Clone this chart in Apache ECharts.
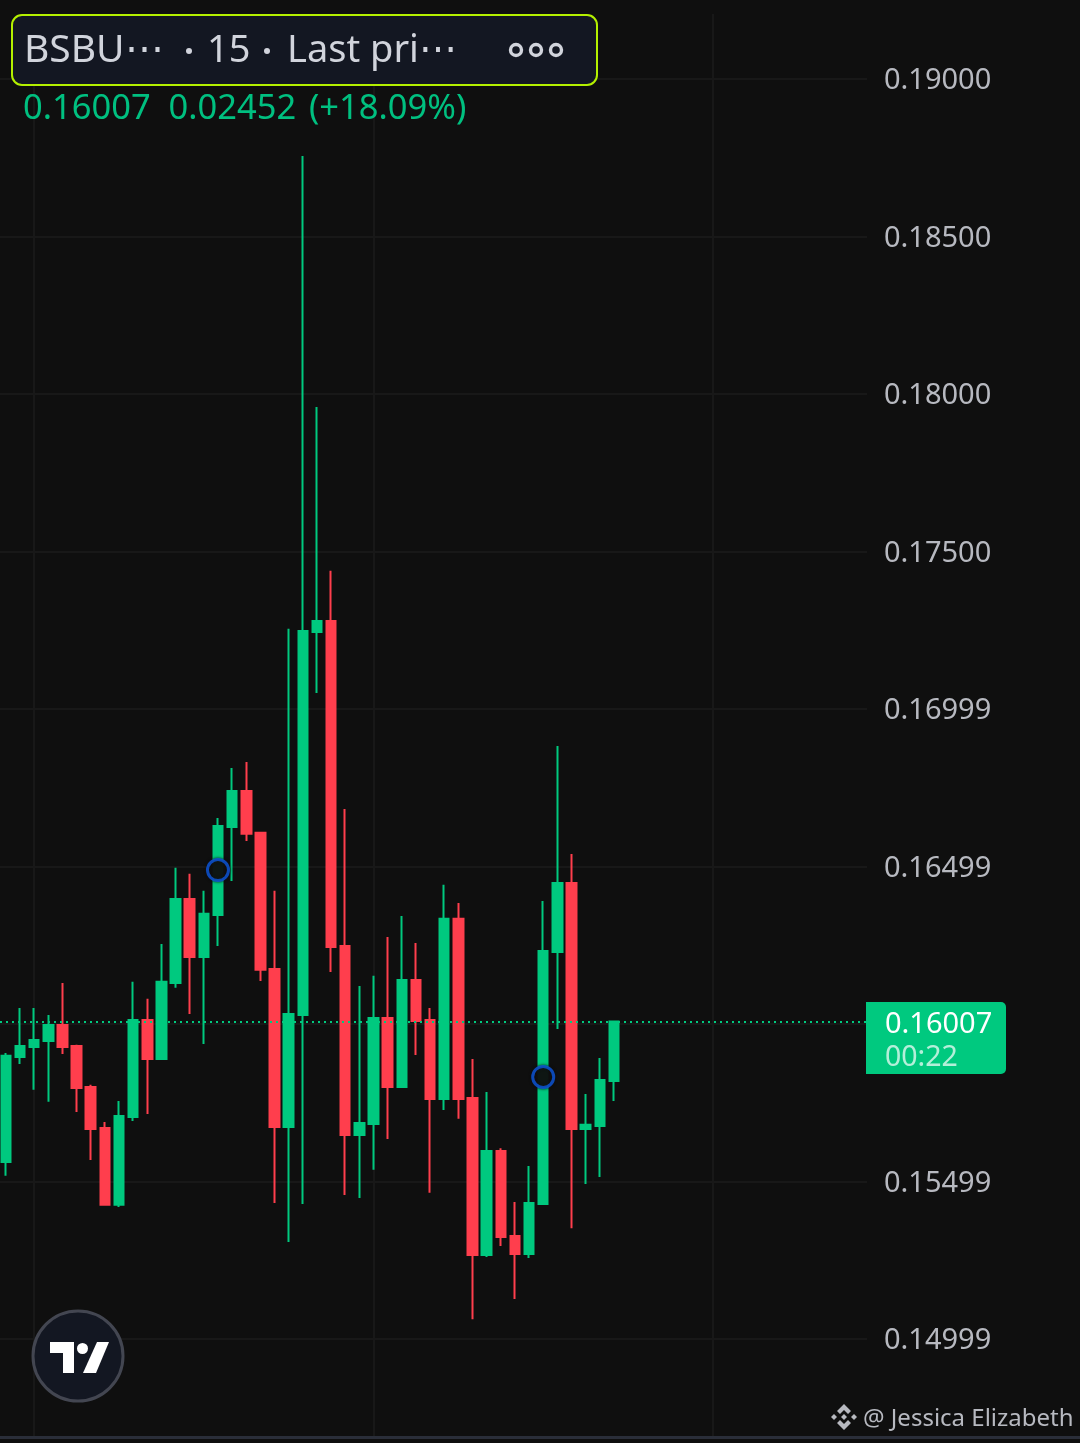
<!DOCTYPE html>
<html><head><meta charset="utf-8">
<style>html,body{margin:0;padding:0;background:#0f0f0f}#c{width:1080px;height:1443px}</style>
<script src="https://cdn.jsdelivr.net/npm/echarts@6/dist/echarts.min.js"></script>
</head><body><div id="c"></div>
<script>
// Candles: one row each, left to right
const opens  = [.15561,.15894,.15926,.15945,.15996,.15929,.15799,.15669,.15425,.15704,.16012,.15888,.16129,.16396,.16212,.16345,.16625,.16739,.16606,.16174,.15672,.16028,.17244,.17279,.16247,.15647,.15682,.16018,.15799,.16139,.16012,.15761,.16333,.15764,.15266,.15596,.15326,.15269,.15428,.16228,.16447,.15666,.15675,.15818];
const closes = [.15898,.15929,.15948,.15996,.15926,.15796,.15666,.15425,.15707,.16012,.15888,.16133,.16396,.16212,.16349,.16628,.16739,.16603,.16171,.15672,.16031,.17247,.17279,.16244,.15647,.15685,.16018,.15799,.16139,.16009,.15761,.16333,.15761,.15266,.15596,.15323,.15269,.15431,.16231,.16447,.15666,.15679,.15821,.16007];
const lows   = [.15517,.15872,.15790,.15752,.15904,.15720,.15567,.15425,.15418,.15691,.15713,.15888,.16114,.16031,.15936,.16247,.16453,.16580,.16136,.15431,.15307,.15428,.17050,.16164,.15456,.15447,.15536,.15634,.15796,.15901,.15463,.15726,.15698,.15062,.15259,.15294,.15126,.15256,.15428,.15983,.15351,.15491,.15513,.15755];
const highs  = [.15907,.16050,.16050,.16028,.16129,.15933,.15806,.15688,.15755,.16133,.16079,.16253,.16495,.16476,.16422,.16653,.16812,.16831,.16606,.16422,.17254,.18755,.17958,.17438,.16682,.16120,.16152,.16275,.16342,.16256,.16050,.16441,.16383,.15888,.15783,.15605,.15434,.15548,.16390,.16882,.16539,.15777,.15891,.16010];
const priceTicks = [0.19,0.185,0.18,0.175,0.16999,0.16499,0.15999,0.15499,0.14999];
const hiddenTick = 0.15999;
const lastPrice = 0.16007;
const timeLeft = '00:22';
const change = '0.02452', changePct = '(+18.09%)';
const markers = [[15,0.16488],[38,0.15831]];
const verticalTicks = [2,26,50];

const UP='#00c97f', DOWN='#ff3e4d', BG='#0f0f0f', GRID='#181818', TXT='#b7b9c0', FONT='"Noto Sans"';
const rows = opens.map((o,i)=>[i,o,closes[i],lows[i],highs[i]]);
const chart = echarts.init(document.getElementById('c'),null,{renderer:'canvas'});
const text=(x,y,t,fs,fill,extra)=>({type:'text',silent:true,z:50,x,y,style:Object.assign({text:t,fontFamily:FONT,fontSize:fs,fill,textVerticalAlign:'middle'},extra||{})});
const dot=cx=>({type:'circle',silent:true,z:50,shape:{cx,cy:50,r:5.5},style:{fill:'none',stroke:'#d1d4dc',lineWidth:3.4}});
const bullet=cx=>({type:'circle',silent:true,z:50,shape:{cx,cy:51,r:3},style:{fill:'#d1d4dc'}});
const poly=points=>({type:'polygon',silent:true,z:50,shape:{points},style:{fill:TXT}});
chart.setOption({
  animation:false, backgroundColor:BG,
  grid:{left:0,top:14,width:867,height:1422},
  xAxis:{type:'value',min:-0.417,max:60.9,axisLine:{show:false},axisLabel:{show:false},
    axisTick:{show:false,customValues:verticalTicks},
    splitLine:{show:true,lineStyle:{color:GRID,width:2}}},
  yAxis:{type:'value',position:'right',min:0.14691,max:0.19206,scale:true,
    axisLine:{show:false},
    axisTick:{show:false,customValues:priceTicks},
    axisLabel:{customValues:priceTicks,margin:17,color:TXT,fontFamily:FONT,fontSize:29,verticalAlign:'top',lineHeight:4,
      formatter:v=>Math.abs(v-hiddenTick)<1e-7?'':v.toFixed(5)},
    splitLine:{show:true,lineStyle:{color:GRID,width:2}}},
  series:[
   {type:'candlestick',data:rows,barWidth:10,encode:{x:0,y:[1,2,3,4]},clip:false,
    itemStyle:{color:UP,color0:DOWN,borderColor:UP,borderColor0:DOWN,borderWidth:2},
    markLine:{silent:true,symbol:'none',animation:false,precision:5,label:{show:false},
      lineStyle:{color:UP,type:[2,4],width:2},data:[{yAxis:lastPrice}]}},
   {type:'scatter',data:markers,symbol:'circle',symbolSize:21,z:10,
    itemStyle:{color:BG,borderColor:'#0d58e0',borderWidth:3,shadowColor:BG,shadowBlur:3}}
  ],
  graphic:[
   {type:'rect',silent:true,z:40,shape:{x:12,y:15,width:585,height:70,r:10},style:{fill:'#131722',stroke:'#b4f000',lineWidth:2}},
   text(24,51,'BSBU\u22EF',39,'#d1d4dc'),
   bullet(189), text(207,51,'15',38,'#d1d4dc'),
   bullet(267), text(287,51,'Last pri\u22EF',38,'#d1d4dc'),
   dot(516),dot(536),dot(556),
   text(23,109.5,lastPrice.toFixed(5)+'  '+change,34.5,'#00c080'),
   text(309,109.5,changePct,34.5,'#00c080'),
   {type:'rect',silent:true,z:40,shape:{x:866,y:1002,width:140,height:72,r:[0,5,5,0]},style:{fill:UP}},
   text(885,1025,lastPrice.toFixed(5),29,'#ffffff'),
   text(885,1058,timeLeft,28.5,'rgba(255,255,255,0.7)'),
   {type:'circle',silent:true,z:40,shape:{cx:78,cy:1356,r:45},style:{fill:'#131722',stroke:'#434651',lineWidth:3}},
   {type:'polygon',silent:true,z:50,shape:{points:[[50,1342],[74,1342],[74,1373],[63,1373],[63,1353],[50,1353]]},style:{fill:'#fff'}},
   {type:'circle',silent:true,z:50,shape:{cx:82.5,cy:1348.5,r:5.5},style:{fill:'#fff'}},
   {type:'polygon',silent:true,z:50,shape:{points:[[97,1342],[109,1342],[96,1373],[83,1373]]},style:{fill:'#fff'}},
   {type:'rect',silent:true,z:40,shape:{x:0,y:1436,width:1080,height:3},style:{fill:'#2a2e39'}},
   poly([[844,1404],[851,1411],[848,1414],[844,1410],[840,1414],[837,1411]]),
   poly([[844,1430],[851,1423],[848,1420],[844,1424],[840,1420],[837,1423]]),
   poly([[844,1414],[847,1417],[844,1420],[841,1417]]),
   poly([[834,1414],[837,1417],[834,1420],[831,1417]]),
   poly([[854,1414],[857,1417],[854,1420],[851,1417]]),
   text(863,1419,'@ Jessica Elizabeth',24,TXT)
  ]
});
</script></body></html>
